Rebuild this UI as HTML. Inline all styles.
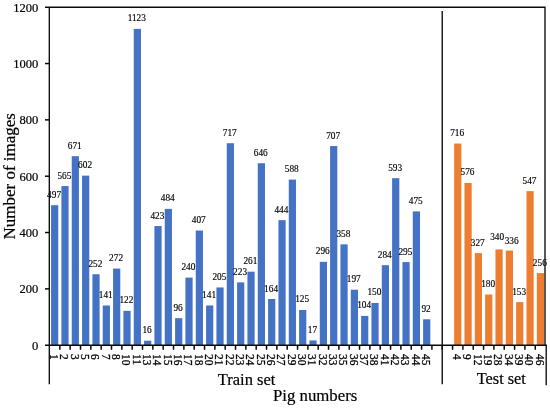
<!DOCTYPE html><html><head><meta charset="utf-8"><title>Pig numbers</title>
<style>html,body{margin:0;padding:0;background:#fff}svg{display:block}text{font-family:"Liberation Serif","Times New Roman",serif;fill:#000}</style></head><body>
<svg width="550" height="410" viewBox="0 0 550 410">
<rect width="550" height="410" fill="#fff"/>
<rect x="51.07" y="205.21" width="7.2" height="139.99" fill="#4472c4"/>
<text x="54.07" y="197.71" font-size="9.3" text-anchor="middle" stroke="#000" stroke-width="0.15">497</text>
<text transform="translate(49.92,354.1) rotate(90) scale(1,1.14)" font-size="11.4" stroke="#000" stroke-width="0.25">1</text>
<rect x="61.40" y="186.06" width="7.2" height="159.14" fill="#4472c4"/>
<text x="64.40" y="178.56" font-size="9.3" text-anchor="middle" stroke="#000" stroke-width="0.15">565</text>
<text transform="translate(60.25,354.1) rotate(90) scale(1,1.14)" font-size="11.4" stroke="#000" stroke-width="0.25">2</text>
<rect x="71.74" y="156.20" width="7.2" height="189.00" fill="#4472c4"/>
<text x="74.74" y="148.70" font-size="9.3" text-anchor="middle" stroke="#000" stroke-width="0.15">671</text>
<text transform="translate(70.59,354.1) rotate(90) scale(1,1.14)" font-size="11.4" stroke="#000" stroke-width="0.25">3</text>
<rect x="82.07" y="175.64" width="7.2" height="169.56" fill="#4472c4"/>
<text x="85.07" y="168.14" font-size="9.3" text-anchor="middle" stroke="#000" stroke-width="0.15">602</text>
<text transform="translate(80.92,354.1) rotate(90) scale(1,1.14)" font-size="11.4" stroke="#000" stroke-width="0.25">5</text>
<rect x="92.41" y="274.22" width="7.2" height="70.98" fill="#4472c4"/>
<text x="95.41" y="266.72" font-size="9.3" text-anchor="middle" stroke="#000" stroke-width="0.15">252</text>
<text transform="translate(91.26,354.1) rotate(90) scale(1,1.14)" font-size="11.4" stroke="#000" stroke-width="0.25">6</text>
<rect x="102.74" y="305.49" width="7.2" height="39.72" fill="#4472c4"/>
<text x="105.74" y="297.99" font-size="9.3" text-anchor="middle" stroke="#000" stroke-width="0.15">141</text>
<text transform="translate(101.59,354.1) rotate(90) scale(1,1.14)" font-size="11.4" stroke="#000" stroke-width="0.25">7</text>
<rect x="113.08" y="268.59" width="7.2" height="76.61" fill="#4472c4"/>
<text x="116.08" y="261.09" font-size="9.3" text-anchor="middle" stroke="#000" stroke-width="0.15">272</text>
<text transform="translate(111.93,354.1) rotate(90) scale(1,1.14)" font-size="11.4" stroke="#000" stroke-width="0.25">8</text>
<rect x="123.41" y="310.84" width="7.2" height="34.36" fill="#4472c4"/>
<text x="126.41" y="303.34" font-size="9.3" text-anchor="middle" stroke="#000" stroke-width="0.15">122</text>
<text transform="translate(122.26,354.1) rotate(90) scale(1,1.14)" font-size="11.4" stroke="#000" stroke-width="0.25">10</text>
<rect x="133.75" y="28.89" width="7.2" height="316.31" fill="#4472c4"/>
<text x="136.75" y="21.39" font-size="9.3" text-anchor="middle" stroke="#000" stroke-width="0.15">1123</text>
<text transform="translate(132.60,354.1) rotate(90) scale(1,1.14)" font-size="11.4" stroke="#000" stroke-width="0.25">11</text>
<rect x="144.08" y="340.69" width="7.2" height="4.51" fill="#4472c4"/>
<text x="147.08" y="333.19" font-size="9.3" text-anchor="middle" stroke="#000" stroke-width="0.15">16</text>
<text transform="translate(142.93,354.1) rotate(90) scale(1,1.14)" font-size="11.4" stroke="#000" stroke-width="0.25">13</text>
<rect x="154.42" y="226.05" width="7.2" height="119.15" fill="#4472c4"/>
<text x="157.42" y="218.55" font-size="9.3" text-anchor="middle" stroke="#000" stroke-width="0.15">423</text>
<text transform="translate(153.27,354.1) rotate(90) scale(1,1.14)" font-size="11.4" stroke="#000" stroke-width="0.25">14</text>
<rect x="164.75" y="208.87" width="7.2" height="136.33" fill="#4472c4"/>
<text x="167.75" y="201.37" font-size="9.3" text-anchor="middle" stroke="#000" stroke-width="0.15">484</text>
<text transform="translate(163.60,354.1) rotate(90) scale(1,1.14)" font-size="11.4" stroke="#000" stroke-width="0.25">15</text>
<rect x="175.09" y="318.16" width="7.2" height="27.04" fill="#4472c4"/>
<text x="178.09" y="310.66" font-size="9.3" text-anchor="middle" stroke="#000" stroke-width="0.15">96</text>
<text transform="translate(173.94,354.1) rotate(90) scale(1,1.14)" font-size="11.4" stroke="#000" stroke-width="0.25">16</text>
<rect x="185.42" y="277.60" width="7.2" height="67.60" fill="#4472c4"/>
<text x="188.42" y="270.10" font-size="9.3" text-anchor="middle" stroke="#000" stroke-width="0.15">240</text>
<text transform="translate(184.27,354.1) rotate(90) scale(1,1.14)" font-size="11.4" stroke="#000" stroke-width="0.25">17</text>
<rect x="195.76" y="230.56" width="7.2" height="114.64" fill="#4472c4"/>
<text x="198.76" y="223.06" font-size="9.3" text-anchor="middle" stroke="#000" stroke-width="0.15">407</text>
<text transform="translate(194.61,354.1) rotate(90) scale(1,1.14)" font-size="11.4" stroke="#000" stroke-width="0.25">18</text>
<rect x="206.09" y="305.49" width="7.2" height="39.72" fill="#4472c4"/>
<text x="209.09" y="297.99" font-size="9.3" text-anchor="middle" stroke="#000" stroke-width="0.15">141</text>
<text transform="translate(204.94,354.1) rotate(90) scale(1,1.14)" font-size="11.4" stroke="#000" stroke-width="0.25">20</text>
<rect x="216.43" y="287.46" width="7.2" height="57.74" fill="#4472c4"/>
<text x="219.43" y="279.96" font-size="9.3" text-anchor="middle" stroke="#000" stroke-width="0.15">205</text>
<text transform="translate(215.28,354.1) rotate(90) scale(1,1.14)" font-size="11.4" stroke="#000" stroke-width="0.25">21</text>
<rect x="226.76" y="143.24" width="7.2" height="201.96" fill="#4472c4"/>
<text x="229.76" y="135.74" font-size="9.3" text-anchor="middle" stroke="#000" stroke-width="0.15">717</text>
<text transform="translate(225.61,354.1) rotate(90) scale(1,1.14)" font-size="11.4" stroke="#000" stroke-width="0.25">22</text>
<rect x="237.10" y="282.39" width="7.2" height="62.81" fill="#4472c4"/>
<text x="240.10" y="274.89" font-size="9.3" text-anchor="middle" stroke="#000" stroke-width="0.15">223</text>
<text transform="translate(235.95,354.1) rotate(90) scale(1,1.14)" font-size="11.4" stroke="#000" stroke-width="0.25">23</text>
<rect x="247.43" y="271.69" width="7.2" height="73.52" fill="#4472c4"/>
<text x="250.43" y="264.19" font-size="9.3" text-anchor="middle" stroke="#000" stroke-width="0.15">261</text>
<text transform="translate(246.28,354.1) rotate(90) scale(1,1.14)" font-size="11.4" stroke="#000" stroke-width="0.25">24</text>
<rect x="257.77" y="163.24" width="7.2" height="181.96" fill="#4472c4"/>
<text x="260.77" y="155.74" font-size="9.3" text-anchor="middle" stroke="#000" stroke-width="0.15">646</text>
<text transform="translate(256.62,354.1) rotate(90) scale(1,1.14)" font-size="11.4" stroke="#000" stroke-width="0.25">25</text>
<rect x="268.10" y="299.01" width="7.2" height="46.19" fill="#4472c4"/>
<text x="271.10" y="291.51" font-size="9.3" text-anchor="middle" stroke="#000" stroke-width="0.15">164</text>
<text transform="translate(266.95,354.1) rotate(90) scale(1,1.14)" font-size="11.4" stroke="#000" stroke-width="0.25">26</text>
<rect x="278.44" y="220.14" width="7.2" height="125.06" fill="#4472c4"/>
<text x="281.44" y="212.64" font-size="9.3" text-anchor="middle" stroke="#000" stroke-width="0.15">444</text>
<text transform="translate(277.29,354.1) rotate(90) scale(1,1.14)" font-size="11.4" stroke="#000" stroke-width="0.25">27</text>
<rect x="288.77" y="179.58" width="7.2" height="165.62" fill="#4472c4"/>
<text x="291.77" y="172.08" font-size="9.3" text-anchor="middle" stroke="#000" stroke-width="0.15">588</text>
<text transform="translate(287.62,354.1) rotate(90) scale(1,1.14)" font-size="11.4" stroke="#000" stroke-width="0.25">29</text>
<rect x="299.11" y="309.99" width="7.2" height="35.21" fill="#4472c4"/>
<text x="302.11" y="302.49" font-size="9.3" text-anchor="middle" stroke="#000" stroke-width="0.15">125</text>
<text transform="translate(297.96,354.1) rotate(90) scale(1,1.14)" font-size="11.4" stroke="#000" stroke-width="0.25">30</text>
<rect x="309.44" y="340.41" width="7.2" height="4.79" fill="#4472c4"/>
<text x="312.44" y="332.91" font-size="9.3" text-anchor="middle" stroke="#000" stroke-width="0.15">17</text>
<text transform="translate(308.29,354.1) rotate(90) scale(1,1.14)" font-size="11.4" stroke="#000" stroke-width="0.25">31</text>
<rect x="319.78" y="261.83" width="7.2" height="83.37" fill="#4472c4"/>
<text x="322.78" y="254.33" font-size="9.3" text-anchor="middle" stroke="#000" stroke-width="0.15">296</text>
<text transform="translate(318.63,354.1) rotate(90) scale(1,1.14)" font-size="11.4" stroke="#000" stroke-width="0.25">32</text>
<rect x="330.11" y="146.06" width="7.2" height="199.14" fill="#4472c4"/>
<text x="333.11" y="138.56" font-size="9.3" text-anchor="middle" stroke="#000" stroke-width="0.15">707</text>
<text transform="translate(328.96,354.1) rotate(90) scale(1,1.14)" font-size="11.4" stroke="#000" stroke-width="0.25">33</text>
<rect x="340.45" y="244.36" width="7.2" height="100.84" fill="#4472c4"/>
<text x="343.45" y="236.86" font-size="9.3" text-anchor="middle" stroke="#000" stroke-width="0.15">358</text>
<text transform="translate(339.30,354.1) rotate(90) scale(1,1.14)" font-size="11.4" stroke="#000" stroke-width="0.25">35</text>
<rect x="350.78" y="289.71" width="7.2" height="55.49" fill="#4472c4"/>
<text x="353.78" y="282.21" font-size="9.3" text-anchor="middle" stroke="#000" stroke-width="0.15">197</text>
<text transform="translate(349.63,354.1) rotate(90) scale(1,1.14)" font-size="11.4" stroke="#000" stroke-width="0.25">36</text>
<rect x="361.12" y="315.91" width="7.2" height="29.29" fill="#4472c4"/>
<text x="364.12" y="308.41" font-size="9.3" text-anchor="middle" stroke="#000" stroke-width="0.15">104</text>
<text transform="translate(359.97,354.1) rotate(90) scale(1,1.14)" font-size="11.4" stroke="#000" stroke-width="0.25">37</text>
<rect x="371.45" y="302.95" width="7.2" height="42.25" fill="#4472c4"/>
<text x="374.45" y="295.45" font-size="9.3" text-anchor="middle" stroke="#000" stroke-width="0.15">150</text>
<text transform="translate(370.30,354.1) rotate(90) scale(1,1.14)" font-size="11.4" stroke="#000" stroke-width="0.25">38</text>
<rect x="381.79" y="265.21" width="7.2" height="79.99" fill="#4472c4"/>
<text x="384.79" y="257.71" font-size="9.3" text-anchor="middle" stroke="#000" stroke-width="0.15">284</text>
<text transform="translate(380.64,354.1) rotate(90) scale(1,1.14)" font-size="11.4" stroke="#000" stroke-width="0.25">41</text>
<rect x="392.12" y="178.17" width="7.2" height="167.03" fill="#4472c4"/>
<text x="395.12" y="170.67" font-size="9.3" text-anchor="middle" stroke="#000" stroke-width="0.15">593</text>
<text transform="translate(390.97,354.1) rotate(90) scale(1,1.14)" font-size="11.4" stroke="#000" stroke-width="0.25">42</text>
<rect x="402.46" y="262.11" width="7.2" height="83.09" fill="#4472c4"/>
<text x="405.46" y="254.61" font-size="9.3" text-anchor="middle" stroke="#000" stroke-width="0.15">295</text>
<text transform="translate(401.31,354.1) rotate(90) scale(1,1.14)" font-size="11.4" stroke="#000" stroke-width="0.25">43</text>
<rect x="412.79" y="211.41" width="7.2" height="133.79" fill="#4472c4"/>
<text x="415.79" y="203.91" font-size="9.3" text-anchor="middle" stroke="#000" stroke-width="0.15">475</text>
<text transform="translate(411.64,354.1) rotate(90) scale(1,1.14)" font-size="11.4" stroke="#000" stroke-width="0.25">44</text>
<rect x="423.13" y="319.29" width="7.2" height="25.91" fill="#4472c4"/>
<text x="426.13" y="311.79" font-size="9.3" text-anchor="middle" stroke="#000" stroke-width="0.15">92</text>
<text transform="translate(421.98,354.1) rotate(90) scale(1,1.14)" font-size="11.4" stroke="#000" stroke-width="0.25">45</text>
<rect x="454.13" y="143.53" width="7.2" height="201.67" fill="#ed7d31"/>
<text x="457.13" y="136.03" font-size="9.3" text-anchor="middle" stroke="#000" stroke-width="0.15">716</text>
<text transform="translate(452.98,354.1) rotate(90) scale(1,1.14)" font-size="11.4" stroke="#000" stroke-width="0.25">4</text>
<rect x="464.47" y="182.96" width="7.2" height="162.24" fill="#ed7d31"/>
<text x="467.47" y="175.46" font-size="9.3" text-anchor="middle" stroke="#000" stroke-width="0.15">576</text>
<text transform="translate(463.32,354.1) rotate(90) scale(1,1.14)" font-size="11.4" stroke="#000" stroke-width="0.25">9</text>
<rect x="474.80" y="253.09" width="7.2" height="92.11" fill="#ed7d31"/>
<text x="477.80" y="245.59" font-size="9.3" text-anchor="middle" stroke="#000" stroke-width="0.15">327</text>
<text transform="translate(473.65,354.1) rotate(90) scale(1,1.14)" font-size="11.4" stroke="#000" stroke-width="0.25">12</text>
<rect x="485.14" y="294.50" width="7.2" height="50.70" fill="#ed7d31"/>
<text x="488.14" y="287.00" font-size="9.3" text-anchor="middle" stroke="#000" stroke-width="0.15">180</text>
<text transform="translate(483.99,354.1) rotate(90) scale(1,1.14)" font-size="11.4" stroke="#000" stroke-width="0.25">19</text>
<rect x="495.47" y="249.43" width="7.2" height="95.77" fill="#ed7d31"/>
<text x="497.17" y="240.43" font-size="9.3" text-anchor="middle" stroke="#000" stroke-width="0.15">340</text>
<text transform="translate(494.32,354.1) rotate(90) scale(1,1.14)" font-size="11.4" stroke="#000" stroke-width="0.25">28</text>
<rect x="505.81" y="250.56" width="7.2" height="94.64" fill="#ed7d31"/>
<text x="511.71" y="244.36" font-size="9.3" text-anchor="middle" stroke="#000" stroke-width="0.15">336</text>
<text transform="translate(504.66,354.1) rotate(90) scale(1,1.14)" font-size="11.4" stroke="#000" stroke-width="0.25">34</text>
<rect x="516.14" y="302.11" width="7.2" height="43.09" fill="#ed7d31"/>
<text x="519.14" y="294.61" font-size="9.3" text-anchor="middle" stroke="#000" stroke-width="0.15">153</text>
<text transform="translate(514.99,354.1) rotate(90) scale(1,1.14)" font-size="11.4" stroke="#000" stroke-width="0.25">39</text>
<rect x="526.48" y="191.13" width="7.2" height="154.07" fill="#ed7d31"/>
<text x="529.48" y="183.63" font-size="9.3" text-anchor="middle" stroke="#000" stroke-width="0.15">547</text>
<text transform="translate(525.33,354.1) rotate(90) scale(1,1.14)" font-size="11.4" stroke="#000" stroke-width="0.25">40</text>
<rect x="536.81" y="273.09" width="7.2" height="72.11" fill="#ed7d31"/>
<text x="539.81" y="265.59" font-size="9.3" text-anchor="middle" stroke="#000" stroke-width="0.15">256</text>
<text transform="translate(535.66,354.1) rotate(90) scale(1,1.14)" font-size="11.4" stroke="#000" stroke-width="0.25">46</text>
<g stroke="#0a0a0a" stroke-width="1.35" fill="none">
<path d="M45 7.2 H545 V345.2"/>
<path d="M546.2 345.2 V385.3"/>
<path d="M49.3 7.2 V384.2"/>
<path d="M45 345.2 H546.85"/>
<path d="M442.23 11 V384.2"/>
<path d="M45 288.87 H49.5" stroke-width="1.5"/>
<path d="M45 232.53 H49.5" stroke-width="1.5"/>
<path d="M45 176.20 H49.5" stroke-width="1.5"/>
<path d="M45 119.87 H49.5" stroke-width="1.5"/>
<path d="M45 63.53 H49.5" stroke-width="1.5"/>
<path d="M59.84 345.2 V349.8" stroke-width="1.5"/>
<path d="M70.17 345.2 V349.8" stroke-width="1.5"/>
<path d="M80.50 345.2 V349.8" stroke-width="1.5"/>
<path d="M90.84 345.2 V349.8" stroke-width="1.5"/>
<path d="M101.18 345.2 V349.8" stroke-width="1.5"/>
<path d="M111.51 345.2 V349.8" stroke-width="1.5"/>
<path d="M121.84 345.2 V349.8" stroke-width="1.5"/>
<path d="M132.18 345.2 V349.8" stroke-width="1.5"/>
<path d="M142.52 345.2 V349.8" stroke-width="1.5"/>
<path d="M152.85 345.2 V349.8" stroke-width="1.5"/>
<path d="M163.19 345.2 V349.8" stroke-width="1.5"/>
<path d="M173.52 345.2 V349.8" stroke-width="1.5"/>
<path d="M183.86 345.2 V349.8" stroke-width="1.5"/>
<path d="M194.19 345.2 V349.8" stroke-width="1.5"/>
<path d="M204.53 345.2 V349.8" stroke-width="1.5"/>
<path d="M214.86 345.2 V349.8" stroke-width="1.5"/>
<path d="M225.20 345.2 V349.8" stroke-width="1.5"/>
<path d="M235.53 345.2 V349.8" stroke-width="1.5"/>
<path d="M245.87 345.2 V349.8" stroke-width="1.5"/>
<path d="M256.20 345.2 V349.8" stroke-width="1.5"/>
<path d="M266.54 345.2 V349.8" stroke-width="1.5"/>
<path d="M276.87 345.2 V349.8" stroke-width="1.5"/>
<path d="M287.21 345.2 V349.8" stroke-width="1.5"/>
<path d="M297.54 345.2 V349.8" stroke-width="1.5"/>
<path d="M307.88 345.2 V349.8" stroke-width="1.5"/>
<path d="M318.21 345.2 V349.8" stroke-width="1.5"/>
<path d="M328.55 345.2 V349.8" stroke-width="1.5"/>
<path d="M338.88 345.2 V349.8" stroke-width="1.5"/>
<path d="M349.22 345.2 V349.8" stroke-width="1.5"/>
<path d="M359.55 345.2 V349.8" stroke-width="1.5"/>
<path d="M369.89 345.2 V349.8" stroke-width="1.5"/>
<path d="M380.22 345.2 V349.8" stroke-width="1.5"/>
<path d="M390.56 345.2 V349.8" stroke-width="1.5"/>
<path d="M400.89 345.2 V349.8" stroke-width="1.5"/>
<path d="M411.23 345.2 V349.8" stroke-width="1.5"/>
<path d="M421.56 345.2 V349.8" stroke-width="1.5"/>
<path d="M431.90 345.2 V349.8" stroke-width="1.5"/>
<path d="M442.23 345.2 V349.8" stroke-width="1.5"/>
<path d="M452.57 345.2 V349.8" stroke-width="1.5"/>
<path d="M462.90 345.2 V349.8" stroke-width="1.5"/>
<path d="M473.24 345.2 V349.8" stroke-width="1.5"/>
<path d="M483.57 345.2 V349.8" stroke-width="1.5"/>
<path d="M493.91 345.2 V349.8" stroke-width="1.5"/>
<path d="M504.24 345.2 V349.8" stroke-width="1.5"/>
<path d="M514.58 345.2 V349.8" stroke-width="1.5"/>
<path d="M524.91 345.2 V349.8" stroke-width="1.5"/>
<path d="M535.25 345.2 V349.8" stroke-width="1.5"/>
</g>
<text x="38.3" y="349.80" font-size="12.5" text-anchor="end" stroke="#000" stroke-width="0.2">0</text>
<text x="38.3" y="293.47" font-size="12.5" text-anchor="end" stroke="#000" stroke-width="0.2">200</text>
<text x="38.3" y="237.13" font-size="12.5" text-anchor="end" stroke="#000" stroke-width="0.2">400</text>
<text x="38.3" y="180.80" font-size="12.5" text-anchor="end" stroke="#000" stroke-width="0.2">600</text>
<text x="38.3" y="124.47" font-size="12.5" text-anchor="end" stroke="#000" stroke-width="0.2">800</text>
<text x="38.3" y="68.13" font-size="12.5" text-anchor="end" stroke="#000" stroke-width="0.2">1000</text>
<text x="38.3" y="11.80" font-size="12.5" text-anchor="end" stroke="#000" stroke-width="0.2">1200</text>
<text transform="translate(15.0,176.3) rotate(-90)" font-size="17" stroke="#000" stroke-width="0.2" text-anchor="middle">Number of images</text>
<text x="246.6" y="385.1" font-size="16.5" stroke="#000" stroke-width="0.2" text-anchor="middle">Train set</text>
<text x="501.3" y="384.3" font-size="16.3" stroke="#000" stroke-width="0.2" text-anchor="middle">Test set</text>
<text x="315.1" y="401.4" font-size="16.8" stroke="#000" stroke-width="0.2" text-anchor="middle">Pig numbers</text>
</svg></body></html>
